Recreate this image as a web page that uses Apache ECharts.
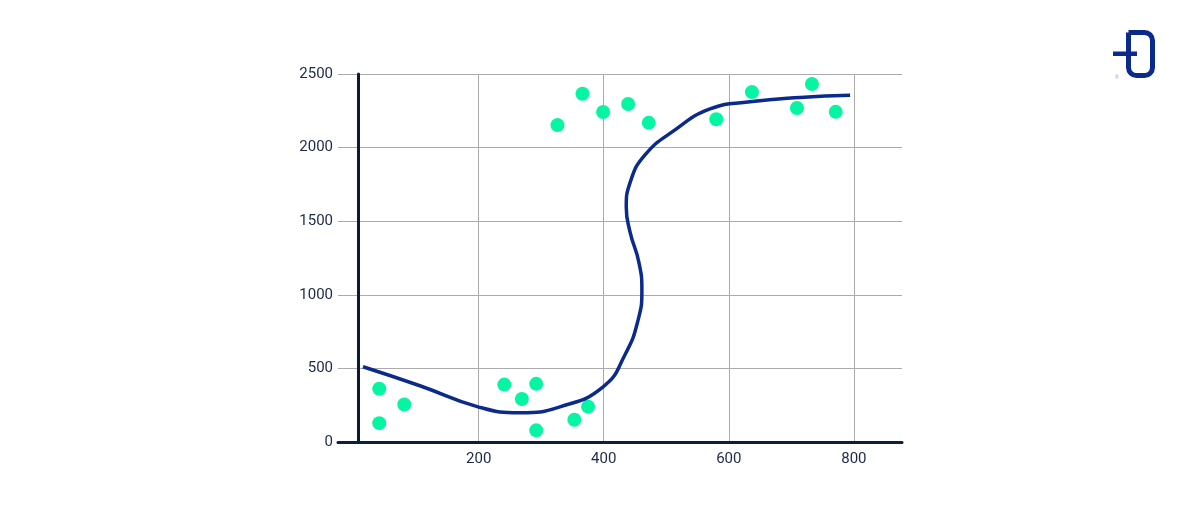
<!DOCTYPE html>
<html>
<head>
<meta charset="utf-8">
<script src="https://cdn.jsdelivr.net/npm/echarts@6/dist/echarts.min.js"></script>
<style>
html,body{margin:0;padding:0;background:#fff;}
#chart{width:1200px;height:521px;}
</style>
</head>
<body>
<div id="chart"></div>
<script>
const xTicks = [200, 400, 600, 800];
const yTicks = [0, 500, 1000, 1500, 2000, 2500];

const pointX = [41, 41, 81, 241, 269, 292, 292, 353, 375, 326, 366, 399, 439, 472, 580, 637, 709, 733, 771];
const pointY = [362, 128, 255, 390, 292, 395, 79, 151, 240, 2153, 2366, 2242, 2296, 2168, 2193, 2377, 2269, 2432, 2243];

const curveX = [15, 106, 199, 266, 330, 399, 434, 455, 461, 456, 442, 436, 442, 466, 514, 570, 634, 714, 794];
const curveY = [511, 382, 239, 198, 239, 375, 593, 830, 1034, 1224, 1428, 1597, 1760, 1950, 2120, 2263, 2311, 2341, 2356];

const points = pointX.map((x, i) => [x, pointY[i]]);
const curve = curveX.map((x, i) => [x, curveY[i]]);

const chart = echarts.init(document.getElementById('chart'), null, {renderer: 'canvas'});
const textColor = '#1b2a47';
chart.setOption({
  animation: false,
  backgroundColor: '#ffffff',
  grid: {left: 338, right: 298, top: 74, bottom: 79, containLabel: false},
  xAxis: {
    type: 'value',
    min: -25,
    max: 877,
    axisLine: {show: true, onZero: false, lineStyle: {color: '#0e1f3d', width: 3}},
    axisTick: {show: false, customValues: xTicks},
    axisLabel: {customValues: xTicks, color: textColor, fontFamily: 'Roboto', fontSize: 15, margin: 10,
                formatter: v => String(v)},
    splitLine: {show: true, lineStyle: {color: '#ababab', width: 1}}
  },
  yAxis: {
    type: 'value',
    min: 0,
    max: 2500,
    interval: 500,
    offset: -20,
    axisLine: {show: true, onZero: false, lineStyle: {color: '#0b1a36', width: 3}},
    axisTick: {show: false},
    axisLabel: {color: textColor, fontFamily: 'Roboto', fontSize: 15, margin: 25, padding: [0, 0, 10, 0],
                formatter: v => yTicks.includes(v) ? String(v) : ''},
    splitLine: {show: true, lineStyle: {color: '#ababab', width: 1}}
  },
  series: [
    {
      type: 'scatter',
      data: points,
      symbolSize: 14,
      itemStyle: {color: '#05f5a3', opacity: 1},
      z: 3
    },
    {
      type: 'line',
      data: curve,
      smooth: 0.5,
      showSymbol: false,
      lineStyle: {color: '#0a2a8c', width: 3.5},
      z: 4
    }
  ],
  graphic: [
    {type: 'rect', shape: {x: 1128.5, y: 32.5, width: 24, height: 43, r: [0, 8, 8, 8]},
     style: {stroke: '#0a2a8c', lineWidth: 5, fill: null}},
    {type: 'rect', shape: {x: 1113, y: 51.5, width: 24, height: 4.5},
     style: {fill: '#0a2a8c'}},
    {type: 'text', x: 1115, y: 75, style: {text: '®', fontSize: 5, fill: '#8a94b8'}}
  ]
});
</script>
</body>
</html>
